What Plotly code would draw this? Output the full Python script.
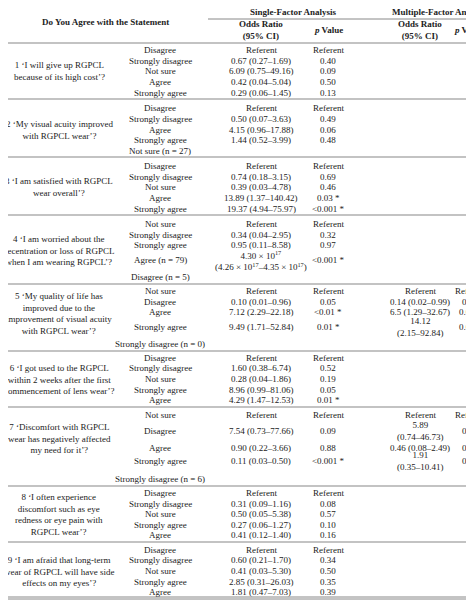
import plotly.graph_objects as go

questions = [
    "1 ‘I will give up RGPCL<br>because of its high cost’?",
    "2 ‘My visual acuity improved<br>with RGPCL wear’?",
    "3 ‘I am satisfied with RGPCL<br>wear overall’?",
    "4 ‘I am worried about the<br>decentration or loss of RGPCL<br>when I am wearing RGPCL’?",
    "5 ‘My quality of life has<br>improved due to the<br>improvement of visual acuity<br>with RGPCL wear’?",
    "6 ‘I got used to the RGPCL<br>within 2 weeks after the first<br>commencement of lens wear’?",
    "7 ‘Discomfort with RGPCL<br>wear has negatively affected<br>my need for it’?",
    "8 ‘I often experience<br>discomfort such as eye<br>redness or eye pain with<br>RGPCL wear’?",
    "9 ‘I am afraid that long-term<br>wear of RGPCL will have side<br>effects on my eyes’?",
]
responses = [
    ["Disagree", "Strongly disagree", "Not sure", "Agree", "Strongly agree"],
    ["Disagree", "Strongly disagree", "Agree", "Strongly agree", "Not sure (n = 27)"],
    ["Disagree", "Strongly disagree", "Not sure", "Agree", "Strongly agree"],
    ["Not sure", "Strongly disagree", "Strongly agree", "Agree (n = 79)", "Disagree (n = 5)"],
    ["Not sure", "Disagree", "Agree", "Strongly agree", "Strongly disagree (n = 0)"],
    ["Disagree", "Strongly disagree", "Not sure", "Strongly agree", "Agree"],
    ["Not sure", "Disagree", "Agree", "Strongly agree", "Strongly disagree (n = 6)"],
    ["Disagree", "Strongly disagree", "Not sure", "Strongly agree", "Agree"],
    ["Disagree", "Strongly disagree", "Not sure", "Strongly agree", "Agree"],
]
single_or = [
    ["Referent", "0.67 (0.27–1.69)", "6.09 (0.75–49.16)", "0.42 (0.04–5.04)", "0.29 (0.06–1.45)"],
    ["Referent", "0.50 (0.07–3.63)", "4.15 (0.96–17.88)", "1.44 (0.52–3.99)", ""],
    ["Referent", "0.74 (0.18–3.15)", "0.39 (0.03–4.78)", "13.89 (1.37–140.42)", "19.37 (4.94–75.97)"],
    ["Referent", "0.34 (0.04–2.95)", "0.95 (0.11–8.58)",
     "4.30 × 10<sup>17</sup><br>(4.26 × 10<sup>17</sup>–4.35 × 10<sup>17</sup>)", ""],
    ["Referent", "0.10 (0.01–0.96)", "7.12 (2.29–22.18)", "9.49 (1.71–52.84)", ""],
    ["Referent", "1.60 (0.38–6.74)", "0.28 (0.04–1.86)", "8.96 (0.99–81.06)", "4.29 (1.47–12.53)"],
    ["Referent", "7.54 (0.73–77.66)", "0.90 (0.22–3.66)", "0.11 (0.03–0.50)", ""],
    ["Referent", "0.31 (0.09–1.16)", "0.50 (0.05–5.38)", "0.27 (0.06–1.27)", "0.41 (0.12–1.40)"],
    ["Referent", "0.60 (0.21–1.70)", "0.41 (0.03–5.30)", "2.85 (0.31–26.03)", "1.81 (0.47–7.03)"],
]
single_p = [
    ["Referent", "0.40", "0.09", "0.50", "0.13"],
    ["Referent", "0.49", "0.06", "0.48", ""],
    ["Referent", "0.69", "0.46", "0.03 *", "<0.001 *"],
    ["Referent", "0.32", "0.97", "<0.001 *", ""],
    ["Referent", "0.05", "<0.01 *", "0.01 *", ""],
    ["Referent", "0.52", "0.19", "0.05", "0.01 *"],
    ["Referent", "0.09", "0.88", "<0.001 *", ""],
    ["Referent", "0.08", "0.57", "0.10", "0.16"],
    ["Referent", "0.34", "0.50", "0.35", "0.39"],
]
multi_or = [
    [""] * 5, [""] * 5, [""] * 5, [""] * 5,
    ["Referent", "0.14 (0.02–0.99)", "6.5 (1.29–32.67)", "14.12<br>(2.15–92.84)", ""],
    [""] * 5,
    ["Referent", "5.89<br>(0.74–46.73)", "0.46 (0.08–2.49)", "1.91<br>(0.35–10.41)", ""],
    [""] * 5, [""] * 5,
]
multi_p = [
    [""] * 5, [""] * 5, [""] * 5, [""] * 5,
    ["Referent", "0.05", "0.02 *", "0.01 *", ""],
    [""] * 5,
    ["Referent", "0.09", "0.37", "0.45", ""],
    [""] * 5, [""] * 5,
]

# layout: row y centres (pixels), question-label centres and separator rules
row_y = [
    [42, 53, 63, 74, 85], [100, 111, 122, 132, 143], [158, 169, 179, 190, 201],
    [216, 227, 237, 252, 269], [283, 294, 304, 319, 336], [350, 360, 371, 382, 392],
    [407, 423, 440, 453, 471], [485, 496, 506, 517, 527], [542, 552, 563, 574, 584],
]
q_y = [63, 122, 179, 242, 305, 371, 430, 506, 563]
rules = [91, 149, 207, 276, 343, 399, 478, 534]
col_x = dict(q=51, r=152, sor=253, sp=320, mor=412, mp=462)

F = "Liberation Serif, DejaVu Serif, serif"
fig = go.Figure()
fig.add_trace(go.Scatter(x=[0, 474], y=[0, 602], mode="markers", marker=dict(opacity=0), hoverinfo="skip"))
ann = []
def t(x, y, s, size=9, bold=False, color="#222"):
    if not s:
        return
    if bold:
        s = "<b>" + s + "</b>"
    ann.append(dict(x=x, y=y, text=s, showarrow=False, xanchor="center", yanchor="middle",
                    font=dict(family=F, size=size, color=color), align="center"))

t(97, 14, "Do You Agree with the Statement", bold=True)
t(285, 4, "Single-Factor Analysis", bold=True)
t(432, 4, "Multiple-Factor Analysis", bold=True)
for cx in (253, 412):
    t(cx, 22, "Odds Ratio<br>(95% CI)", bold=True)
for cx in (320, 460):
    t(cx, 22, "<i>p</i> Value", bold=True)

for i, q in enumerate(questions):
    ys = row_y[i]
    t(col_x["q"], q_y[i], q)
    for j in range(5):
        t(col_x["r"], ys[j], responses[i][j])
        t(col_x["sor"], ys[j], single_or[i][j])
        t(col_x["sp"], ys[j], single_p[i][j])
        t(col_x["mor"], ys[j], multi_or[i][j])
        t(col_x["mp"], ys[j], multi_p[i][j])

t(237, 597, "RGPCL, rigid gas-permeable contact lens; CI, confidence interval. * <i>p</i> < 0.05.", size=8.5)

shapes = []
def line(x0, x1, y, w=1, c="#888"):
    shapes.append(dict(type="line", x0=x0, x1=x1, y0=y, y1=y, line=dict(color=c, width=w)))
line(200, 474, 11)
line(0, 474, 35, 1.2)
for r in rules:
    line(0, 474, r, 1.2)
line(0, 474, 589, 1)
line(0, 474, 591, 1)

fig.update_layout(
    width=474, height=602, margin=dict(l=0, r=0, t=0, b=0),
    plot_bgcolor="white", paper_bgcolor="white", showlegend=False,
    xaxis=dict(range=[0, 474], visible=False, fixedrange=True),
    yaxis=dict(range=[602, 0], visible=False, fixedrange=True),
    annotations=ann, shapes=shapes,
)
fig.write_html("out.html")
